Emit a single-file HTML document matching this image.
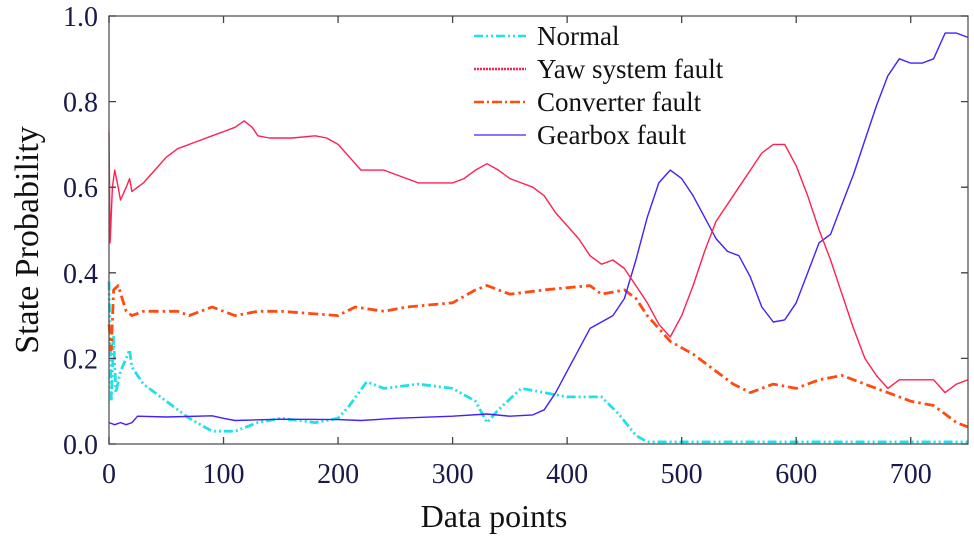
<!DOCTYPE html>
<html><head><meta charset="utf-8"><style>
body{margin:0;background:#fff;}
svg{display:block;font-family:"Liberation Serif",serif;}
</style></head><body>
<svg id="chart" width="974" height="540">
<rect x="0" y="0" width="974" height="540" fill="#fff"/>
<g id="marks"></g>
<rect x="109" y="16" width="859" height="428" fill="none" stroke="#555" stroke-width="1.3"/>
<g id="ticks"></g>
<text x="494" y="527" font-size="32" text-anchor="middle" fill="#111">Data points</text>
<text transform="translate(38,240) rotate(-90)" font-size="34" text-anchor="middle" fill="#111">State Probability</text>
<g>
<g><line x1="474" y1="36" x2="526" y2="36" stroke="#22e0e8" stroke-width="2.5" stroke-dasharray="9,3,2,3,2,3"/><text x="537" y="45" font-size="27" fill="#111">Normal</text></g>
<g><line x1="474" y1="69" x2="526" y2="69" stroke="#ff2050" stroke-width="2.5" stroke-dasharray="2,1"/><text x="537" y="78" font-size="27" fill="#111">Yaw system fault</text></g>
<g><line x1="474" y1="102" x2="526" y2="102" stroke="#ff4a10" stroke-width="2.5" stroke-dasharray="10,3,2,3"/><text x="537" y="111" font-size="27" fill="#111">Converter fault</text></g>
<g><line x1="474" y1="135" x2="526" y2="135" stroke="#4020ff" stroke-width="1.3"/><text x="537" y="144" font-size="27" fill="#111">Gearbox fault</text></g>
</g>
</svg>
<script>
const xTicks=[0,100,200,300,400,500,600,700];
const yTicks=[0,0.2,0.4,0.6,0.8,1.0];
const yTickLabels=["0.0","0.2","0.4","0.6","0.8","1.0"];
const yawX=[0,1,3,5,8,10,15,18,20,25,30,40,50,60,70,80,90,100,110,118,125,130,140,160,180,190,200,210,220,230,240,250,260,270,290,300,310,320,330,340,350,360,370,380,390,400,410,420,430,440,450,460,470,480,490,500,510,520,530,540,550,560,570,580,590,600,610,620,630,640,650,660,670,680,690,700,710,720,730,740,750];
const yawY=[0.73,0.47,0.60,0.64,0.60,0.57,0.60,0.62,0.59,0.60,0.61,0.64,0.67,0.69,0.70,0.71,0.72,0.73,0.74,0.755,0.74,0.72,0.715,0.715,0.72,0.715,0.70,0.67,0.64,0.64,0.64,0.63,0.62,0.61,0.61,0.61,0.62,0.64,0.655,0.64,0.62,0.61,0.60,0.58,0.54,0.51,0.48,0.44,0.42,0.43,0.41,0.37,0.33,0.28,0.25,0.30,0.37,0.45,0.52,0.56,0.60,0.64,0.68,0.70,0.70,0.65,0.58,0.50,0.43,0.35,0.27,0.20,0.16,0.13,0.15,0.15,0.15,0.15,0.12,0.14,0.15];
const gearX=[0,5,10,15,20,25,50,90,100,110,150,200,220,250,300,330,350,370,380,390,400,410,420,430,440,450,460,470,480,490,500,510,520,530,540,550,560,570,580,590,600,610,620,630,640,650,660,670,680,690,700,710,720,730,740,750];
const gearY=[0.05,0.045,0.05,0.045,0.05,0.065,0.063,0.066,0.06,0.055,0.058,0.057,0.055,0.06,0.065,0.07,0.065,0.068,0.08,0.12,0.17,0.22,0.27,0.285,0.30,0.34,0.43,0.53,0.61,0.64,0.62,0.58,0.53,0.48,0.45,0.44,0.39,0.32,0.285,0.29,0.33,0.40,0.47,0.49,0.56,0.63,0.71,0.79,0.86,0.90,0.89,0.89,0.90,0.96,0.96,0.95];
const convX=[0,2,4,8,15,20,30,60,70,90,110,130,150,200,215,240,260,300,320,330,350,380,420,430,450,460,470,490,510,530,545,560,580,600,620,640,660,680,700,720,740,750];
const convY=[0.28,0.22,0.36,0.37,0.31,0.30,0.31,0.31,0.30,0.32,0.30,0.31,0.31,0.30,0.32,0.31,0.32,0.33,0.36,0.37,0.35,0.36,0.37,0.35,0.36,0.34,0.30,0.24,0.21,0.17,0.14,0.12,0.14,0.13,0.15,0.16,0.14,0.12,0.10,0.09,0.05,0.04];
const normX=[0,2,4,6,10,15,18,20,30,50,70,90,110,130,150,180,200,210,225,240,270,300,320,330,340,360,380,400,430,445,460,470,750];
const normY=[0.38,0.10,0.25,0.12,0.17,0.20,0.22,0.18,0.14,0.10,0.06,0.03,0.03,0.05,0.06,0.05,0.06,0.09,0.145,0.13,0.14,0.13,0.10,0.05,0.08,0.13,0.12,0.11,0.11,0.07,0.02,0.005,0.005];

const NS='http://www.w3.org/2000/svg';
const X0=109,X1=968,Y0=444,Y1=16,XMAX=750;
function sx(v){return X0+v/XMAX*(X1-X0);}
function sy(v){return Y0-v*(Y0-Y1);}
const marks=document.getElementById('marks');
const ticks=document.getElementById('ticks');
function series(xs,ys,color,w,dash,name){
  const p=document.createElementNS(NS,'path');
  p.setAttribute('d',xs.map((x,i)=>(i?'L':'M')+sx(x).toFixed(1)+','+sy(ys[i]).toFixed(1)).join(''));
  p.setAttribute('fill','none');p.setAttribute('stroke',color);p.setAttribute('stroke-width',w);
  p.setAttribute('stroke-linejoin','round');
  if(dash)p.setAttribute('stroke-dasharray',dash);
  
  
  marks.appendChild(p);
}
series(normX,normY,'#22e0e8',2.8,'9,3,2,3,2,3','normal-line');
series(convX,convY,'#ff4a10',2.8,'10,4,2.5,4','converter-fault-line');
series(gearX,gearY,'#4020ff',1.4,null,'gearbox-fault-line');
series(yawX,yawY,'#ff2050',1.4,null,'yaw-system-fault-line');

xTicks.forEach(t=>{
  const x=sx(t);
  const l=document.createElementNS(NS,'path');
  l.setAttribute('d','M'+x+','+Y0+'v-7M'+x+','+Y1+'v7');
  l.setAttribute('stroke','#444');l.setAttribute('stroke-width','1.3');
  
  
  ticks.appendChild(l);
  const tx=document.createElementNS(NS,'text');
  tx.setAttribute('x',x);tx.setAttribute('y',483);tx.setAttribute('font-size','28');
  tx.setAttribute('text-anchor','middle');tx.setAttribute('fill','#1a1a4a');
  tx.textContent=t;
  
  
  ticks.appendChild(tx);
});
yTicks.forEach((t,i)=>{
  const y=sy(t);
  const l=document.createElementNS(NS,'path');
  l.setAttribute('d','M'+X0+','+y+'h7M'+X1+','+y+'h-7');
  l.setAttribute('stroke','#444');l.setAttribute('stroke-width','1.3');
  
  
  ticks.appendChild(l);
  const tx=document.createElementNS(NS,'text');
  tx.setAttribute('x',98);tx.setAttribute('y',y+10);tx.setAttribute('font-size','28');
  tx.setAttribute('text-anchor','end');tx.setAttribute('fill','#1a1a4a');
  tx.textContent=yTickLabels[i];
  
  
  ticks.appendChild(tx);
});
</script>
</body></html>
